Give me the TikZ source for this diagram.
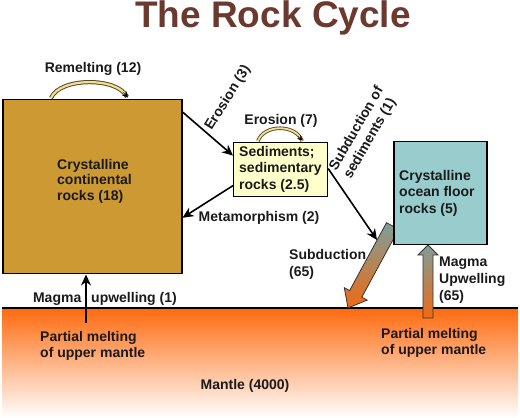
\documentclass[tikz,border=0pt]{standalone}
\usepackage{fontspec}
\setmainfont{Liberation Sans}
\usetikzlibrary{arrows.meta,calc}
\definecolor{titlebrown}{HTML}{6B3A2E}
\definecolor{contbrown}{HTML}{CC9933}
\definecolor{sedyellow}{HTML}{FFFFCC}
\definecolor{oceanteal}{HTML}{99CCCC}
\definecolor{mantleorange}{HTML}{FF6A0E}
\definecolor{mantlemid}{HTML}{F9A068}
\definecolor{arrowteal}{HTML}{7E9E9A}
\definecolor{arroworange}{HTML}{EE6A12}
\definecolor{txt}{HTML}{1A1A1A}
\definecolor{arcdark}{HTML}{5C4A1E}
\definecolor{arccream}{HTML}{F0DF9C}
\begin{document}
\begin{tikzpicture}[x=1pt,y=1pt,
  lbl/.style={font=\bfseries\fontsize{14}{16.5}\selectfont, text=txt, inner sep=0pt, align=left},
  box/.style={draw=black, line width=1.5pt, inner sep=0pt},
  flow/.style={draw=black, line width=1.6pt, -{Stealth[length=11pt,width=10pt]}},
  fatarrow/.style={draw=black!80, line width=0.8pt, top color=arrowteal, bottom color=arroworange},
  arcout/.style={draw=arcdark, line width=4.2pt},
  arcin/.style={draw=arccream, line width=2.2pt},
]
\useasboundingbox (0,0) rectangle (520,418);

% title
\node[font=\bfseries\fontsize{37}{40}\selectfont, text=titlebrown, inner sep=0pt, anchor=base] (title) at (273,390) {The Rock Cycle};

% mantle
\shade[top color=mantleorange, middle color=mantlemid, bottom color=white] (2,0) rectangle (518,110);
\coordinate (mantleL) at (2,110);
\coordinate (mantleR) at (518,110);
\draw[line width=1.5pt] (mantleL) -- (mantleR);

% subduction fat arrow (behind ocean box)
\path[fatarrow] (386.5,195.3) -- (398.7,188.7) -- (361.8,120.8) -- (367.1,117.9) -- (348,110) -- (344.3,130.3) -- (349.6,127.4) -- cycle;
\coordinate (subband) at (377,178);

% boxes
\node[box, fill=contbrown, minimum width=179pt, minimum height=174pt, anchor=north west] (big) at (2,319) {};
\node[box, fill=sedyellow, minimum width=94pt, minimum height=54pt, anchor=north west, line width=1.2pt] (sed) at (233,276) {};
\node[box, fill=oceanteal, minimum width=93pt, minimum height=103pt, anchor=north west] (ocean) at (393,277) {};

\node[lbl, anchor=west, font=\bfseries\fontsize{14}{15.5}\selectfont] (bigtxt) at (57,237) {Crystalline\\continental\\rocks (18)};
\node[lbl, anchor=west] (sedtxt) at (239,249) {Sediments;\\sedimentary\\rocks (2.5)};
\node[lbl, anchor=west] (oceantxt) at (399,225) {Crystalline\\ocean floor\\rocks (5)};

% magma upwelling fat arrow (right)
\path[fatarrow] (423,100) -- (433,100) -- (433,163) -- (438,163) -- (428,173) -- (418,163) -- (423,163) -- cycle;

% remelting arc
\draw[arcout] (51,320) .. controls (60,341) and (118,341) .. (127,321);
\draw[arcin] (51,320) .. controls (60,341) and (118,341) .. (127,321);
\draw[line width=0.3pt, -{Stealth[length=6pt,width=6pt]}] (123,326) -- (128,320.5);
\node[lbl] (remelt) at (93,349) {Remelting (12)};

% erosion (7) arc
\draw[arcout, line width=3.6pt] (258,277) .. controls (264,294) and (296,294) .. (302,277);
\draw[arcin, line width=1.8pt] (258,277) .. controls (264,294) and (296,294) .. (302,277);
\draw[line width=0.3pt, -{Stealth[length=5pt,width=5pt]}] (298,282) -- (302.5,277.5);
\node[lbl] (eros7) at (281,297) {Erosion (7)};

% flows
\draw[flow] ($(big.north east)+(0,-13)$) -- ($(sed.west)+(0,14)$);
\node[lbl, rotate=58] (eros3) at (228,320) {Erosion (3)};

\draw[flow] ($(sed.west)+(0,-16)$) -- ($(big.east)+(0,-31)$);
\node[lbl] (meta) at (259,200) {Metamorphism (2)};

\draw[flow] ($(sed.east)+(0,1)$) -- (subband);
\node[lbl, rotate=60] (subsed) at (364,285) {Subduction of\\sediments (1)};

\node[lbl, anchor=west] (subd) at (289,153.5) {Subduction\\(65)};
\node[lbl, anchor=west, font=\bfseries\fontsize{14}{17}\selectfont] (mup) at (439,138) {Magma\\Upwelling\\(65)};

% magma upwelling (1)
\coordinate (mupL) at (86,95);
\draw[flow, line width=1.4pt] (mupL) -- (big.south west -| mupL);
\node[lbl, anchor=base east] (mag1) at (81.5,115) {Magma};
\node[lbl, anchor=base west] (upw1) at (91,115) {upwelling (1)};

% mantle labels
\node[lbl, anchor=west, font=\bfseries\fontsize{14}{16}\selectfont] (pmL) at (40,72) {Partial melting\\of upper mantle};
\node[lbl, anchor=west, font=\bfseries\fontsize{14}{16}\selectfont] (pmR) at (381,75) {Partial melting\\of upper mantle};
\node[lbl] (mantle) at (245,32) {Mantle (4000)};
\end{tikzpicture}
\end{document}
